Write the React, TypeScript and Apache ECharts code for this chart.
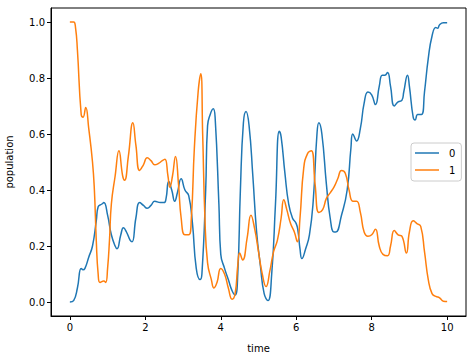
import React, { useEffect, useRef } from "react";
import * as echarts from "echarts";

const seriesNames = ["0", "1"];
const xTicks = [0, 2, 4, 6, 8, 10];
const yTicks = [0, 0.2, 0.4, 0.6, 0.8, 1.0];

const time0 = [0, 0.1, 0.2, 0.3, 0.35, 0.4, 0.5, 0.6, 0.7, 0.75, 0.85, 0.9, 1.0, 1.1, 1.2, 1.25, 1.35, 1.42, 1.5, 1.6, 1.65, 1.75, 1.85, 1.95, 2.05, 2.15, 2.25, 2.4, 2.5, 2.55, 2.62, 2.7, 2.78, 2.85, 2.95, 3.05, 3.15, 3.25, 3.35, 3.45, 3.5, 3.6, 3.65, 3.72, 3.8, 3.85, 3.95, 4.0, 4.1, 4.2, 4.3, 4.38, 4.45, 4.52, 4.6, 4.67, 4.75, 4.85, 4.95, 5.05, 5.15, 5.25, 5.35, 5.45, 5.55, 5.6, 5.7, 5.8, 5.9, 6.0, 6.05, 6.1, 6.15, 6.25, 6.35, 6.45, 6.55, 6.6, 6.68, 6.8, 6.9, 7.0, 7.05, 7.2, 7.35, 7.45, 7.5, 7.6, 7.7, 7.8, 7.9, 8.0, 8.1, 8.2, 8.28, 8.35, 8.42, 8.5, 8.6, 8.7, 8.8, 8.85, 8.95, 9.0, 9.1, 9.15, 9.22, 9.32, 9.4, 9.5, 9.6, 9.7, 9.75, 9.8, 9.9, 10];
const pop0 = [0.0, 0.005, 0.05, 0.12, 0.115, 0.12, 0.16, 0.2, 0.29, 0.34, 0.35, 0.355, 0.31, 0.24, 0.2, 0.19, 0.24, 0.265, 0.25, 0.22, 0.215, 0.3, 0.355, 0.345, 0.335, 0.345, 0.36, 0.355, 0.355, 0.37, 0.43, 0.4, 0.36, 0.39, 0.44, 0.4, 0.38, 0.28, 0.12, 0.08, 0.1, 0.4, 0.63, 0.67, 0.69, 0.66, 0.35, 0.17, 0.12, 0.08, 0.04, 0.025, 0.1, 0.4, 0.64, 0.68, 0.63, 0.45, 0.25, 0.13, 0.03, 0.005, 0.1, 0.35, 0.61, 0.59, 0.46, 0.35, 0.3, 0.28, 0.25, 0.19, 0.155, 0.19, 0.24, 0.36, 0.6, 0.64, 0.6, 0.42, 0.3, 0.25, 0.25, 0.31, 0.4, 0.55, 0.6, 0.575, 0.62, 0.71, 0.75, 0.74, 0.705, 0.77, 0.81, 0.81, 0.82, 0.77, 0.7, 0.715, 0.72, 0.75, 0.81, 0.77, 0.66, 0.65, 0.67, 0.67, 0.75, 0.87, 0.95, 0.98, 0.978, 0.99, 0.997, 0.997];

const time1 = [0, 0.1, 0.15, 0.2, 0.3, 0.35, 0.42, 0.5, 0.6, 0.65, 0.7, 0.75, 0.8, 0.9, 0.95, 1.0, 1.05, 1.1, 1.2, 1.3, 1.4, 1.45, 1.55, 1.67, 1.75, 1.85, 1.95, 2.05, 2.15, 2.25, 2.35, 2.45, 2.52, 2.6, 2.65, 2.72, 2.8, 2.88, 2.95, 3.05, 3.15, 3.22, 3.3, 3.4, 3.47, 3.52, 3.58, 3.65, 3.75, 3.82, 3.9, 4.0, 4.1, 4.2, 4.3, 4.38, 4.45, 4.5, 4.58, 4.7, 4.8, 4.9, 5.0, 5.1, 5.2, 5.3, 5.4, 5.5, 5.6, 5.67, 5.75, 5.85, 5.95, 6.03, 6.1, 6.2, 6.3, 6.4, 6.5, 6.6, 6.7, 6.8, 6.9, 7.0, 7.1, 7.2, 7.3, 7.4, 7.5, 7.6, 7.7, 7.8, 7.9, 8.0, 8.1, 8.2, 8.3, 8.42, 8.5, 8.6, 8.7, 8.8, 8.92, 9.0, 9.1, 9.2, 9.3, 9.4, 9.5, 9.6, 9.7, 9.8, 9.9, 10];
const pop1 = [1.0, 1.0, 0.98, 0.9, 0.67, 0.66, 0.695, 0.62, 0.5, 0.4, 0.22, 0.1, 0.07, 0.075, 0.07, 0.12, 0.22, 0.35, 0.45, 0.54, 0.45, 0.435, 0.52, 0.64, 0.56, 0.47, 0.49, 0.515, 0.505, 0.49, 0.495, 0.505, 0.51, 0.45, 0.41, 0.45, 0.52, 0.42, 0.3, 0.24, 0.24, 0.3, 0.55, 0.75, 0.815, 0.6, 0.3, 0.14, 0.08, 0.05, 0.07, 0.12, 0.1, 0.05, 0.01, 0.03, 0.13, 0.175, 0.15, 0.23, 0.31, 0.26, 0.18, 0.1, 0.055, 0.11, 0.18, 0.22, 0.3, 0.365, 0.33, 0.28, 0.25, 0.215, 0.3, 0.48, 0.53, 0.54, 0.42, 0.32, 0.33, 0.37, 0.39, 0.41, 0.44, 0.47, 0.46, 0.4, 0.36, 0.36, 0.32, 0.25, 0.235, 0.24, 0.26, 0.2, 0.17, 0.165, 0.2, 0.255, 0.24, 0.235, 0.175, 0.25, 0.29, 0.28, 0.27, 0.18, 0.08, 0.03, 0.02, 0.015, 0.003, 0.002];

const FONT = "DejaVu Sans";

export default function App() {
  const ref = useRef<HTMLDivElement>(null);
  useEffect(() => {
    if (!ref.current) return;
    const chart = echarts.init(ref.current, null, { renderer: "svg" });
    const mk = (ts: number[], vs: number[]) => ts.map((t, i) => [t, vs[i]]);
    chart.setOption({
      animation: false,
      backgroundColor: "#ffffff",
      textStyle: { fontFamily: FONT },
      grid: {
        left: 51,
        right: 8,
        top: 8,
        bottom: 45,
        outerBoundsMode: "none",
        containLabel: false,
        show: true,
        borderColor: "#000",
        borderWidth: 1,
        backgroundColor: "transparent",
      },
      legend: {
        orient: "vertical",
        left: 411,
        top: 143,
        data: seriesNames.map((n) => ({ name: n, icon: "rect" })),
        itemWidth: 24,
        itemHeight: 1.5,
        itemGap: 5,
        padding: [4, 6, 5, 4],
        backgroundColor: "#fff",
        borderColor: "#cccccc",
        borderWidth: 1,
        borderRadius: 3,
        textStyle: {
          fontFamily: FONT,
          fontSize: 10,
          color: "#000",
          lineHeight: 12,
          padding: [0, 0, 0, 5],
        },
      },
      xAxis: {
        type: "value",
        min: -0.5,
        max: 10.5,
        name: "time",
        nameLocation: "middle",
        nameGap: 27,
        nameTextStyle: { fontFamily: FONT, fontSize: 10, color: "#000" },
        axisLine: { show: true, onZero: false, lineStyle: { color: "#000", width: 1 } },
        axisTick: { show: true, length: 4, lineStyle: { color: "#000" }, customValues: xTicks },
        axisLabel: {
          show: true,
          margin: 6,
          fontFamily: FONT,
          fontSize: 10,
          color: "#000",
          customValues: xTicks,
          formatter: (v: number) => String(v),
        },
        splitLine: { show: false },
      },
      yAxis: {
        type: "value",
        min: -0.05,
        max: 1.05,
        name: "population",
        nameLocation: "middle",
        nameGap: 37,
        nameTextStyle: { fontFamily: FONT, fontSize: 10, color: "#000" },
        axisLine: { show: true, onZero: false, lineStyle: { color: "#000", width: 1 } },
        axisTick: { show: true, length: 4, lineStyle: { color: "#000" }, customValues: yTicks },
        axisLabel: {
          show: true,
          margin: 6,
          fontFamily: FONT,
          fontSize: 10,
          color: "#000",
          customValues: yTicks,
          formatter: (v: number) => v.toFixed(1),
        },
        splitLine: { show: false },
      },
      series: [
        {
          name: seriesNames[0],
          type: "line",
          data: mk(time0, pop0),
          smooth: 0.5,
          symbol: "none",
          lineStyle: { color: "#1f77b4", width: 1.5 },
          itemStyle: { color: "#1f77b4" },
        },
        {
          name: seriesNames[1],
          type: "line",
          data: mk(time1, pop1),
          smooth: 0.5,
          symbol: "none",
          lineStyle: { color: "#ff7f0e", width: 1.5 },
          itemStyle: { color: "#ff7f0e" },
        },
      ],
    });
    return () => chart.dispose();
  }, []);
  return (
    <div
      ref={ref}
      style={{ position: "fixed", left: 0, top: 0, width: 474, height: 361, background: "#fff" }}
    />
  );
}
